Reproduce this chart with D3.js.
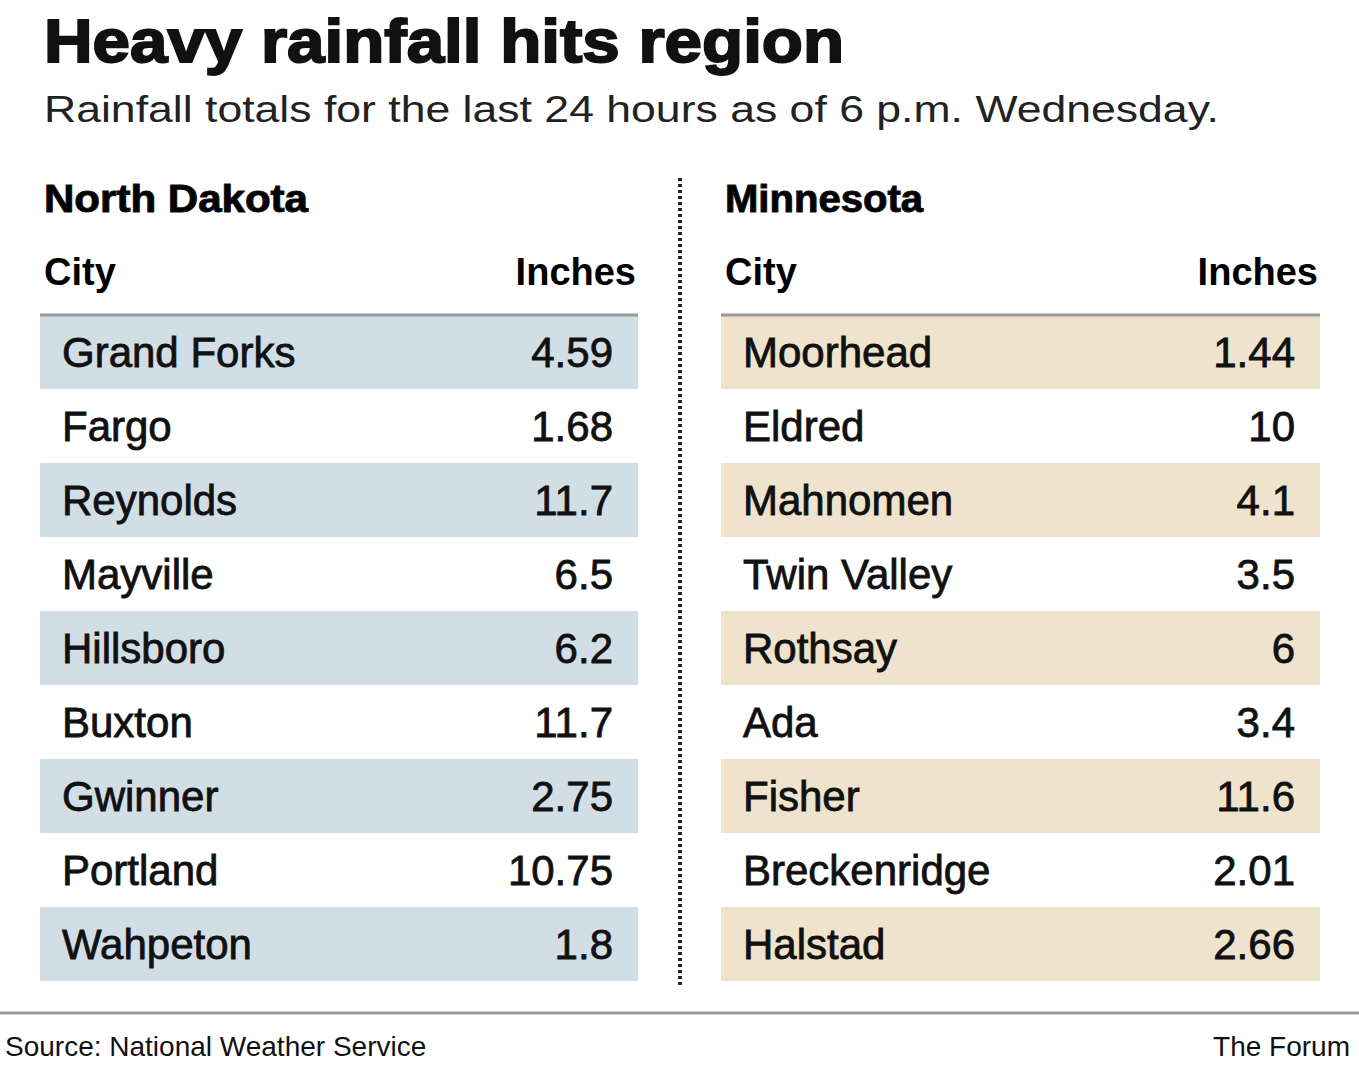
<!DOCTYPE html>
<html><head><meta charset="utf-8">
<script src="https://cdn.jsdelivr.net/npm/d3@7"></script>
<style>body{margin:0;background:#fff}text{font-family:"Liberation Sans",Arial,sans-serif}</style>
</head><body><div id="chart"></div>
<script>
var ndCities = ["Grand Forks","Fargo","Reynolds","Mayville","Hillsboro","Buxton","Gwinner","Portland","Wahpeton"];
var ndInches = ["4.59","1.68","11.7","6.5","6.2","11.7","2.75","10.75","1.8"];
var mnCities = ["Moorhead","Eldred","Mahnomen","Twin Valley","Rothsay","Ada","Fisher","Breckenridge","Halstad"];
var mnInches = ["1.44","10","4.1","3.5","6","3.4","11.6","2.01","2.66"];

var svg = d3.select("#chart").append("svg").attr("width", 1359).attr("height", 1066);

svg.append("text").attr("x", 44).attr("y", 62).attr("font-size", 62).attr("font-weight", "bold")
    .attr("stroke", "#111").attr("stroke-width", 2).attr("fill", "#111")
    .attr("textLength", 800).attr("lengthAdjust", "spacingAndGlyphs")
    .text("Heavy rainfall hits region");
svg.append("text").attr("x", 44).attr("y", 122).attr("font-size", 37).attr("fill", "#222")
    .attr("textLength", 1175).attr("lengthAdjust", "spacingAndGlyphs")
    .text("Rainfall totals for the last 24 hours as of 6 p.m. Wednesday.");

var y = d3.scaleBand().domain(d3.range(ndCities.length)).range([315, 981]);

function panel(x0, x1, title, cities, inches, shade) {
    var g = svg.append("g");
    g.append("text").attr("x", x0 + 4).attr("y", 212).attr("font-size", 38).attr("font-weight", "bold")
        .attr("stroke", "#111").attr("stroke-width", 1).attr("textLength", title.length * 22)
        .attr("lengthAdjust", "spacingAndGlyphs").text(title);
    g.append("text").attr("x", x0 + 4).attr("y", 285).attr("font-size", 38).attr("font-weight", "bold").text("City");
    g.append("text").attr("x", x1 - 2).attr("y", 285).attr("font-size", 38).attr("font-weight", "bold")
        .attr("text-anchor", "end").text("Inches");
    g.selectAll("rect.row").data(cities).enter().append("rect")
        .attr("x", x0).attr("width", x1 - x0)
        .attr("y", function (d, i) { return y(i); }).attr("height", y.bandwidth())
        .attr("fill", function (d, i) { return i % 2 === 0 ? shade : "#fff"; });
    g.append("line").attr("x1", x0).attr("x2", x1).attr("y1", 315).attr("y2", 315)
        .attr("stroke", "#999").attr("stroke-width", 3);
    g.selectAll("text.city").data(cities).enter().append("text")
        .attr("x", x0 + 22).attr("y", function (d, i) { return y(i) + y.bandwidth() / 2 + 15; })
        .attr("font-size", 42).attr("fill", "#111").attr("stroke", "#111").attr("stroke-width", 0.8)
        .text(function (d) { return d; });
    g.selectAll("text.val").data(inches).enter().append("text")
        .attr("x", x1 - 25).attr("y", function (d, i) { return y(i) + y.bandwidth() / 2 + 15; })
        .attr("font-size", 42).attr("text-anchor", "end").attr("fill", "#111").attr("stroke", "#111").attr("stroke-width", 0.8)
        .text(function (d) { return d; });
}
panel(40, 638, "North Dakota", ndCities, ndInches, "#d2dee6");
panel(721, 1320, "Minnesota", mnCities, mnInches, "#efe3cd");

svg.append("line").attr("x1", 680).attr("x2", 680).attr("y1", 178).attr("y2", 985)
    .attr("stroke", "#222").attr("stroke-width", 4).attr("stroke-dasharray", "3,3");
svg.append("line").attr("x1", 0).attr("x2", 1359).attr("y1", 1013).attr("y2", 1013)
    .attr("stroke", "#999").attr("stroke-width", 3);
svg.append("text").attr("x", 5).attr("y", 1056).attr("font-size", 28).attr("fill", "#111").text("Source: National Weather Service");
svg.append("text").attr("x", 1350).attr("y", 1056).attr("font-size", 28).attr("text-anchor", "end").attr("fill", "#111").text("The Forum");
</script></body></html>
